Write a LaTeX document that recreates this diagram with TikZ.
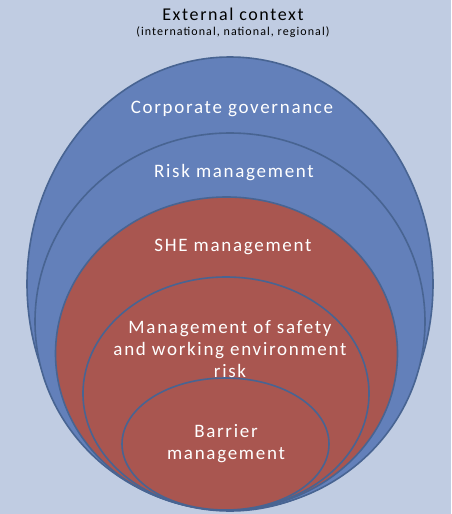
\documentclass[tikz,border=0pt]{standalone}
\usepackage{fontspec}
\setmainfont{Carlito}[LetterSpace=9]
\definecolor{bgblue}{RGB}{192,204,226}
\definecolor{ringblue}{RGB}{99,128,186}
\definecolor{ringred}{RGB}{169,86,80}
\definecolor{edgeblue}{RGB}{72,100,146}
\tikzset{
  ring/.style = {draw = edgeblue, line width = 1.6pt},
  label/.style = {text = white, font = \fontsize{19}{22}\selectfont, align = center}
}
\begin{document}
\begin{tikzpicture}[x = 1pt, y = -1pt]
  \fill[bgblue] (0, 0) rectangle (451, 514);
  \useasboundingbox (0, 0) rectangle (451, 514);
  \draw[ring, fill = ringblue] (230, 284) ellipse [x radius = 203, y radius = 227];
  \draw[ring, fill = ringblue] (230, 321.5) ellipse [x radius = 195, y radius = 188.5];
  \draw[ring, fill = ringred] (226.5, 353.5) ellipse [x radius = 171, y radius = 156.5];
  \draw[ring, fill = ringred] (226, 393.5) ellipse [x radius = 143, y radius = 116.5];
  \draw[ring, fill = ringred] (225.5, 444) ellipse [x radius = 103.5, y radius = 66];
  \node[font = \fontsize{18}{21}\selectfont] at (233, 14) (ext) {External context};
  \node[font = \fontsize{12}{14}\selectfont] at (233, 32) (extsub) {(international, national, regional)};
  \node[label] at (232, 109) (corp) {Corporate governance};
  \node[label] at (234, 173) (risk) {Risk management};
  \node[label] at (233, 247) (she) {SHE management};
  \node[label] at (230, 349) (safety) {Management of safety\\and working environment\\risk};
  \node[label] at (226, 444) (barrier) {Barrier\\management};
\end{tikzpicture}
\end{document}
